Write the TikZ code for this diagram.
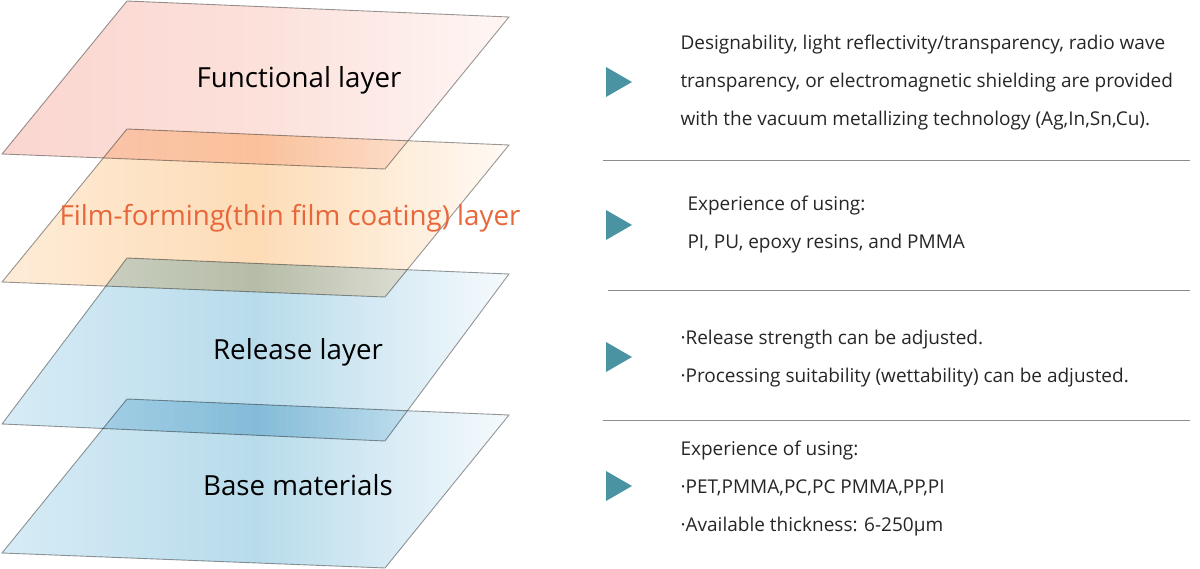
\documentclass[tikz,border=0pt]{standalone}
\usepackage{fontspec}
\setmainfont{Open Sans}
\begin{document}
\begin{tikzpicture}[x=1pt,y=-1pt,
  layer/.style={draw=black!40,line width=0.9pt,blend mode=multiply},
  big/.style={font=\fontsize{27.7}{31}\selectfont,anchor=center},
  txt/.style={font=\fontsize{19}{38}\selectfont,anchor=north west,align=left,text=black!85},
  tri/.style={fill=tealc,draw=none},
  sep/.style={draw=black!45,line width=0.8pt}]
\definecolor{tealc}{HTML}{4A93A3}
\definecolor{orangetxt}{HTML}{E8673A}
\useasboundingbox (0,0) rectangle (1200,569);
% layers
\shade[layer,left color={rgb,255:red,215;green,236;blue,246},right color={rgb,255:red,245;green,250;blue,253},middle color={rgb,255:red,184;green,219;blue,235}]
  (2,553) -- (127,399) -- (509,415) -- (385,568) -- cycle;
\shade[layer,left color={rgb,255:red,215;green,236;blue,246},right color={rgb,255:red,245;green,250;blue,253},middle color={rgb,255:red,184;green,219;blue,235}]
  (2,424) -- (127,258) -- (509,274) -- (385,441) -- cycle;
\shade[layer,left color={rgb,255:red,254;green,236;blue,216},right color={rgb,255:red,255;green,250;blue,245},middle color={rgb,255:red,253;green,220;blue,182}]
  (2,282) -- (127,129) -- (509,145) -- (385,297) -- cycle;
\shade[layer,left color={rgb,255:red,251;green,214;blue,208},right color={rgb,255:red,254;green,246;blue,244},middle color={rgb,255:red,252;green,224;blue,218}]
  (2,154) -- (127,1) -- (509,17) -- (385,169) -- cycle;
% labels
\node[big] (l1) at (299,80) {Functional layer};
\node[big,text=orangetxt] (l2) at (290,218) {Film-forming(thin film coating) layer};
\node[big] (l3) at (298,352) {Release layer};
\node[big] (l4) at (298,485) {Base materials};
% arrows
\path[tri] (606,67) -- (632,82) -- (606,97) -- cycle;
\path[tri] (606,210) -- (632,225) -- (606,240) -- cycle;
\path[tri] (606,342) -- (632,357) -- (606,372) -- cycle;
\path[tri] (606,471) -- (632,486) -- (606,501) -- cycle;
% separators
\coordinate (s1a) at (603,160); \coordinate (s1b) at (1190,160);
\coordinate (s2a) at (608,290); \coordinate (s2b) at (1190,290);
\coordinate (s3a) at (603,420); \coordinate (s3b) at (1190,420);
\draw[sep] (s1a) -- (s1b);
\draw[sep] (s2a) -- (s2b);
\draw[sep] (s3a) -- (s3b);
% texts
\node[txt] (t1) at (677,31) {Designability, light reflectivity/transparency, radio wave\\transparency, or electromagnetic shielding are provided\\with the vacuum metallizing technology (Ag,In,Sn,Cu).};
\node[txt] (t2) at (684,192) {Experience of using:\\PI, PU, epoxy resins, and PMMA};
\node[txt] (t3) at (677,327) {·Release strength can be adjusted.\\·Processing suitability (wettability) can be adjusted.};
\node[txt] (t4) at (677,437) {Experience of using:\\·PET,PMMA,PC,PC PMMA,PP,PI\\·Available thickness: 6-250µm};
\end{tikzpicture}
\end{document}
